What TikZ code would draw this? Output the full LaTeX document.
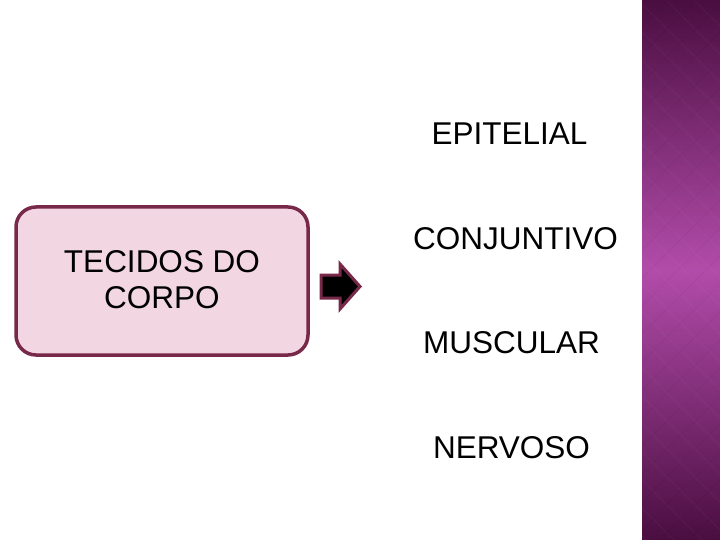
\documentclass[tikz,border=0pt]{standalone}
\usepackage{fontspec}
\setmainfont{Liberation Sans}
\definecolor{maroon}{RGB}{120,40,72}
\definecolor{boxfill}{RGB}{242,214,225}
\definecolor{bandtop}{RGB}{74,14,64}
\definecolor{bandmid}{RGB}{178,76,170}
\tikzset{
  lbl/.style={anchor=base, font=\fontsize{31.5}{36}\selectfont, inner sep=0pt},
  mainbox/.style={draw=maroon, line width=3.5pt, fill=boxfill, rounded corners=20pt}
}
\begin{document}
\begin{tikzpicture}[x=1pt,y=-1pt]
\useasboundingbox (0,0) rectangle (720,540);
\fill[white] (0,0) rectangle (720,540);
% purple band
\shade[top color=bandtop, bottom color=bandmid] (642,0) rectangle (720,270);
\shade[top color=bandmid, bottom color=bandtop] (642,270) rectangle (720,540);
\begin{scope}
  \clip (642,0) rectangle (720,540);
  \foreach \k in {-80,-52,...,600} {
    \draw[white, opacity=0.035, line width=0.8pt] (642,\k) -- ++(90,90);
    \draw[black, opacity=0.03, line width=0.8pt] (720,\k) -- ++(-90,90);
  }
\end{scope}
% main box
\draw[mainbox] (16,207) rectangle (308,355);
\node[align=center, font=\fontsize{31.5}{36}\selectfont, inner sep=0pt] (tecidos) at (162,280) {TECIDOS DO\\CORPO};
% arrow
\draw[maroon, line width=3pt, fill=black, line join=miter]
  (321,275) -- (340,275) -- (340,264) -- (360,286.5) -- (340,309) -- (340,298) -- (321,298) -- cycle;
% labels
\node[lbl] (epi) at (509.5,144.5) {EPITELIAL};
\node[lbl] (con) at (515.5,249) {CONJUNTIVO};
\node[lbl] (mus) at (511.5,353) {MUSCULAR};
\node[lbl] (ner) at (511.5,458.5) {NERVOSO};
\end{tikzpicture}
\end{document}
